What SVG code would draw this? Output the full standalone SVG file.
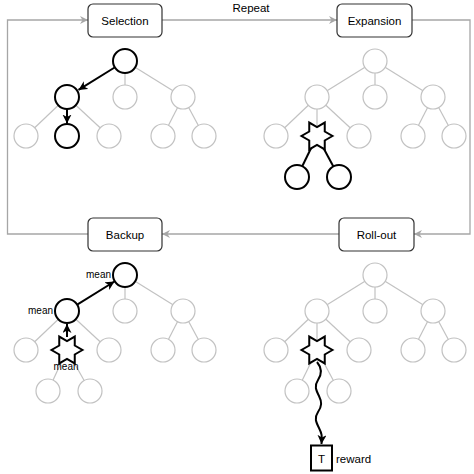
<svg xmlns="http://www.w3.org/2000/svg" width="474" height="474" viewBox="0 0 474 474">
<style>
text{font-family:"Liberation Sans",Arial,sans-serif;fill:#000}
.box{fill:#fff;stroke:#333;stroke-width:1.2}
.lbl{font-size:11.5px;text-anchor:middle}
.loop{fill:none;stroke:#a6a6a6;stroke-width:1.3}
.g{fill:#fff;stroke:#c2c2c2;stroke-width:1.2}
.ge{stroke:#c2c2c2;stroke-width:1.2}
.b{fill:#fff;stroke:#000;stroke-width:2}
.be{stroke:#000;stroke-width:2;fill:none}
.mean{font-size:10px}
</style>
<defs>
<marker id="ga" markerUnits="userSpaceOnUse" markerWidth="10" markerHeight="10" refX="8" refY="4" orient="auto">
<path d="M0,0 L8,4 L0,8 L2.5,4 Z" fill="#a6a6a6"/>
</marker>
<marker id="ba" markerUnits="userSpaceOnUse" markerWidth="12" markerHeight="12" refX="9" refY="4.5" orient="auto">
<path d="M0,0 L9,4.5 L0,9 L2.5,4.5 Z" fill="#000"/>
</marker>
<path id="star" d="M15.5,0 L7.75,4.47 L7.75,13.42 L0,8.95 L-7.75,13.42 L-7.75,4.47 L-15.5,0 L-7.75,-4.47 L-7.75,-13.42 L0,-8.95 L7.75,-13.42 L7.75,-4.47 Z"/>
</defs>

<g id="connectors">
<path class="loop" d="M162,20 H337" marker-end="url(#ga)"/>
<path class="loop" d="M412,20 H470 V234 H414" marker-end="url(#ga)"/>
<path class="loop" d="M339,234 H162" marker-end="url(#ga)"/>
<path class="loop" d="M88,234 H7.5 V20 H88" marker-end="url(#ga)"/>
</g>
<text x="251" y="12" class="lbl">Repeat</text>

<g id="selection">
<rect class="box" x="88" y="4" width="74" height="33" rx="5"/>
<text x="125" y="25" class="lbl">Selection</text>
</g>
<g id="expansion">
<rect class="box" x="337" y="4" width="75" height="33" rx="5"/>
<text x="374.5" y="25" class="lbl">Expansion</text>
</g>
<g id="backup">
<rect class="box" x="88" y="218" width="74" height="33" rx="5"/>
<text x="125" y="239" class="lbl">Backup</text>
</g>
<g id="rollout">
<rect class="box" x="339" y="218" width="75" height="33" rx="5"/>
<text x="376.5" y="239" class="lbl">Roll-out</text>
</g>

<!-- Selection tree -->
<g id="tree-selection">
<line class="ge" x1="125" y1="61" x2="125" y2="97"/>
<line class="ge" x1="125" y1="61" x2="183" y2="97"/>
<line class="ge" x1="67" y1="97" x2="26" y2="136"/>
<line class="ge" x1="67" y1="97" x2="109" y2="136"/>
<line class="ge" x1="183" y1="97" x2="163" y2="136"/>
<line class="ge" x1="183" y1="97" x2="204" y2="136"/>
<circle class="g" cx="125" cy="97" r="12"/>
<circle class="g" cx="183" cy="97" r="12"/>
<circle class="g" cx="26" cy="136" r="12"/>
<circle class="g" cx="109" cy="136" r="12"/>
<circle class="g" cx="163" cy="136" r="12"/>
<circle class="g" cx="204" cy="136" r="12"/>
<circle class="b" cx="125" cy="61" r="12"/>
<circle class="b" cx="67" cy="97" r="12"/>
<circle class="b" cx="67" cy="136" r="12"/>
<line class="be" x1="114.6" y1="67.5" x2="78.5" y2="89.9" marker-end="url(#ba)"/>
<line class="be" x1="67" y1="109" x2="67" y2="123.5" marker-end="url(#ba)"/>
</g>

<!-- Expansion tree -->
<g id="tree-expansion">
<line class="ge" x1="375" y1="61" x2="317" y2="97"/>
<line class="ge" x1="375" y1="61" x2="375" y2="97"/>
<line class="ge" x1="375" y1="61" x2="433" y2="97"/>
<line class="ge" x1="317" y1="97" x2="276" y2="136"/>
<line class="ge" x1="317" y1="97" x2="317" y2="136"/>
<line class="ge" x1="317" y1="97" x2="359" y2="136"/>
<line class="ge" x1="433" y1="97" x2="413" y2="136"/>
<line class="ge" x1="433" y1="97" x2="454" y2="136"/>
<line class="be" x1="317" y1="136" x2="297" y2="177"/>
<line class="be" x1="317" y1="136" x2="339" y2="177"/>
<circle class="g" cx="375" cy="61" r="12"/>
<circle class="g" cx="317" cy="97" r="12"/>
<circle class="g" cx="375" cy="97" r="12"/>
<circle class="g" cx="433" cy="97" r="12"/>
<circle class="g" cx="276" cy="136" r="12"/>
<circle class="g" cx="359" cy="136" r="12"/>
<circle class="g" cx="413" cy="136" r="12"/>
<circle class="g" cx="454" cy="136" r="12"/>
<use href="#star" x="317" y="136" fill="#fff" stroke="#000" stroke-width="2"/>
<circle class="b" cx="297" cy="177" r="12"/>
<circle class="b" cx="339" cy="177" r="12"/>
</g>

<!-- Backup tree -->
<g id="tree-backup">
<line class="ge" x1="125" y1="275" x2="125" y2="311"/>
<line class="ge" x1="125" y1="275" x2="183" y2="311"/>
<line class="ge" x1="67" y1="311" x2="26" y2="350"/>
<line class="ge" x1="67" y1="311" x2="109" y2="350"/>
<line class="ge" x1="183" y1="311" x2="163" y2="350"/>
<line class="ge" x1="183" y1="311" x2="204" y2="350"/>
<line class="ge" x1="67" y1="350" x2="48" y2="391"/>
<line class="ge" x1="67" y1="350" x2="90" y2="391"/>
<circle class="g" cx="125" cy="311" r="12"/>
<circle class="g" cx="183" cy="311" r="12"/>
<circle class="g" cx="26" cy="350" r="12"/>
<circle class="g" cx="109" cy="350" r="12"/>
<circle class="g" cx="163" cy="350" r="12"/>
<circle class="g" cx="204" cy="350" r="12"/>
<circle class="g" cx="48" cy="391" r="12"/>
<circle class="g" cx="90" cy="391" r="12"/>
<circle class="b" cx="125" cy="275" r="12"/>
<circle class="b" cx="67" cy="311" r="12"/>
<use href="#star" x="67" y="350" fill="#fff" stroke="#000" stroke-width="2"/>
<line class="be" x1="77.6" y1="304.3" x2="114.5" y2="281.5" marker-end="url(#ba)"/>
<line class="be" x1="67" y1="337" x2="67" y2="324" marker-end="url(#ba)"/>
<text x="111" y="278" class="mean" text-anchor="end">mean</text>
<text x="53" y="314" class="mean" text-anchor="end">mean</text>
<text x="66" y="369.5" class="mean" text-anchor="middle">mean</text>
</g>

<!-- Roll-out tree -->
<g id="tree-rollout">
<line class="ge" x1="375" y1="275" x2="317" y2="311"/>
<line class="ge" x1="375" y1="275" x2="375" y2="311"/>
<line class="ge" x1="375" y1="275" x2="433" y2="311"/>
<line class="ge" x1="317" y1="311" x2="276" y2="350"/>
<line class="ge" x1="317" y1="311" x2="317" y2="350"/>
<line class="ge" x1="317" y1="311" x2="359" y2="350"/>
<line class="ge" x1="433" y1="311" x2="413" y2="350"/>
<line class="ge" x1="433" y1="311" x2="454" y2="350"/>
<line class="ge" x1="317" y1="350" x2="297" y2="391"/>
<line class="ge" x1="317" y1="350" x2="339" y2="391"/>
<circle class="g" cx="375" cy="275" r="12"/>
<circle class="g" cx="317" cy="311" r="12"/>
<circle class="g" cx="375" cy="311" r="12"/>
<circle class="g" cx="433" cy="311" r="12"/>
<circle class="g" cx="276" cy="350" r="12"/>
<circle class="g" cx="359" cy="350" r="12"/>
<circle class="g" cx="413" cy="350" r="12"/>
<circle class="g" cx="454" cy="350" r="12"/>
<circle class="g" cx="297" cy="391" r="12"/>
<circle class="g" cx="339" cy="391" r="12"/>
<use href="#star" x="317" y="350" fill="#fff" stroke="#000" stroke-width="2"/>
<path class="be" d="M317,362 C322,368 322,374 318,380 S316,390 319,396 S322,406 318,412 S316,422 319,428 S322,435 321.5,444" marker-end="url(#ba)"/>
</g>

<g id="terminal">
<rect x="311" y="445.5" width="21" height="25" fill="#fff" stroke="#000" stroke-width="2"/>
<text x="321.5" y="462.5" class="lbl">T</text>
<text x="336" y="463" font-size="11.5px">reward</text>
</g>
</svg>
